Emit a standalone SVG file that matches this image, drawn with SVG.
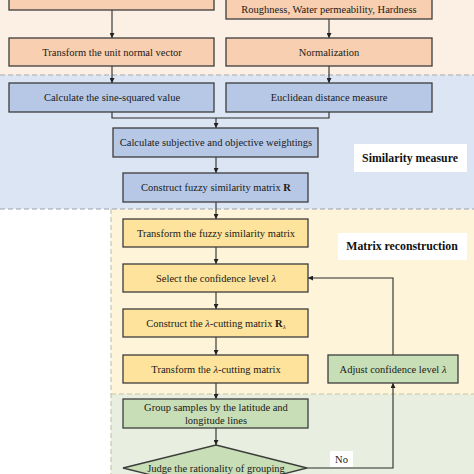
<svg xmlns="http://www.w3.org/2000/svg" width="474" height="474" viewBox="0 0 474 474">
<style>
.t{font-family:"Liberation Serif","Times New Roman",serif;font-size:10.5px;fill:#1a1a1a;text-anchor:middle}
.lb{font-family:"Liberation Serif","Times New Roman",serif;font-size:11.8px;font-weight:bold;fill:#111;text-anchor:middle}
.bx{stroke:#3c3c3c;stroke-width:1.3}
.o{fill:#f8cfb0}.b{fill:#b6c8e6}.y{fill:#fde39c}.g{fill:#c8deb6}
.c{fill:none;stroke:#2a2a2a;stroke-width:1.1}
</style>
<defs>
<marker id="ah" viewBox="0 0 6 6" refX="6" refY="3" markerWidth="5" markerHeight="5" orient="auto" markerUnits="userSpaceOnUse"><path d="M0,0L6,3L0,6z" fill="#222"/></marker>
</defs>
<rect width="474" height="474" fill="#fff"/>
<g id="regions">
<rect x="0" y="0" width="474" height="75" fill="#fcefe3"/>
<rect x="0" y="75" width="474" height="134" fill="#dce5f3"/>
<rect x="111" y="209" width="363" height="185" fill="#fdf4da"/>
<rect x="111" y="394" width="363" height="80" fill="#e8efe0"/>
<line x1="0" y1="75" x2="474" y2="75" stroke="#a8a8b0" stroke-width="1.2" stroke-dasharray="5,3"/>
<line x1="0" y1="209" x2="474" y2="209" stroke="#9aa2b0" stroke-width="1.2" stroke-dasharray="5,3"/>
<line x1="111" y1="394" x2="474" y2="394" stroke="#c9c39a" stroke-width="1.2" stroke-dasharray="5,3"/>
<line x1="111" y1="209" x2="111" y2="474" stroke="#c8c4a8" stroke-width="1.2" stroke-dasharray="5,3"/>
</g>
<g id="label-similarity">
<rect x="354" y="144" width="113" height="28" fill="#fff"/>
<text class="lb" x="410" y="162">Similarity measure</text>
</g>
<g id="label-matrix">
<rect x="338" y="233" width="129" height="27" fill="#fff"/>
<text class="lb" x="402" y="250">Matrix reconstruction</text>
</g>
<g id="connectors">
<line class="c" x1="112" y1="10" x2="112" y2="38" marker-end="url(#ah)"/>
<line class="c" x1="329" y1="19" x2="329" y2="38" marker-end="url(#ah)"/>
<line class="c" x1="112" y1="66" x2="112" y2="83" marker-end="url(#ah)"/>
<line class="c" x1="329" y1="66" x2="329" y2="83" marker-end="url(#ah)"/>
<polyline class="c" points="112,112 112,118 329,118 329,112"/>
<line class="c" x1="216" y1="118" x2="216" y2="128" marker-end="url(#ah)"/>
<line class="c" x1="216" y1="157" x2="216" y2="173" marker-end="url(#ah)"/>
<line class="c" x1="216" y1="202" x2="216" y2="219" marker-end="url(#ah)"/>
<line class="c" x1="216" y1="247" x2="216" y2="264" marker-end="url(#ah)"/>
<line class="c" x1="216" y1="292" x2="216" y2="309" marker-end="url(#ah)"/>
<line class="c" x1="216" y1="337" x2="216" y2="355" marker-end="url(#ah)"/>
<line class="c" x1="216" y1="383" x2="216" y2="399" marker-end="url(#ah)"/>
<line class="c" x1="216" y1="428" x2="216" y2="445" marker-end="url(#ah)"/>
<polyline class="c" points="307,468 393,468 393,383" marker-end="url(#ah)"/>
<polyline class="c" points="393,355 393,278 308,278" marker-end="url(#ah)"/>
</g>
<g id="label-no">
<rect x="330" y="451" width="23" height="16" fill="#fff"/>
<text class="t" x="341.5" y="463">No</text>
</g>
<g id="n-top-left"><rect class="bx o" x="9" y="-20" width="205" height="30"/></g>
<g id="n-top-right"><rect class="bx o" x="226" y="-20" width="206" height="39"/>
<text class="t" x="329" y="13">Roughness, Water permeability, Hardness</text></g>
<g id="n-unit"><rect class="bx o" x="9" y="38" width="205" height="28"/>
<text class="t" x="112" y="56">Transform the unit normal vector</text></g>
<g id="n-norm"><rect class="bx o" x="226" y="38" width="206" height="28"/>
<text class="t" x="329" y="56">Normalization</text></g>
<g id="n-sine"><rect class="bx b" x="9" y="83" width="205" height="29"/>
<text class="t" x="112" y="101">Calculate the sine-squared value</text></g>
<g id="n-eucl"><rect class="bx b" x="226" y="83" width="206" height="29"/>
<text class="t" x="329" y="101">Euclidean distance measure</text></g>
<g id="n-weight"><rect class="bx b" x="113" y="128" width="205" height="29"/>
<text class="t" x="216" y="146">Calculate subjective and objective weightings</text></g>
<g id="n-fuzzy"><rect class="bx b" x="123" y="173" width="185" height="29"/>
<text class="t" x="216" y="191">Construct fuzzy similarity matrix <tspan font-weight="bold">R</tspan></text></g>
<g id="n-tfuzzy"><rect class="bx y" x="123" y="219" width="185" height="28"/>
<text class="t" x="216" y="237">Transform the fuzzy similarity matrix</text></g>
<g id="n-select"><rect class="bx y" x="123" y="264" width="185" height="28"/>
<text class="t" x="216" y="282">Select the confidence level <tspan font-style="italic">λ</tspan></text></g>
<g id="n-cut"><rect class="bx y" x="123" y="309" width="185" height="28"/>
<text class="t" x="216" y="327">Construct the <tspan font-style="italic">λ</tspan>-cutting matrix <tspan font-weight="bold">R</tspan><tspan font-size="7" dy="2" font-style="italic">λ</tspan></text></g>
<g id="n-tcut"><rect class="bx y" x="123" y="355" width="185" height="28"/>
<text class="t" x="216" y="373">Transform the <tspan font-style="italic">λ</tspan>-cutting matrix</text></g>
<g id="n-adjust"><rect class="bx g" x="328" y="355" width="130" height="28"/>
<text class="t" x="393" y="373">Adjust confidence level <tspan font-style="italic">λ</tspan></text></g>
<g id="n-group"><rect class="bx g" x="123" y="399" width="185" height="29"/>
<text class="t" x="216" y="411">Group samples by the latitude and</text>
<text class="t" x="216" y="424">longitude lines</text></g>
<g id="n-judge"><polygon class="bx g" points="216,445 307,468 216,491 123,468"/>
<text class="t" x="216" y="472">Judge the rationality of grouping</text></g>
</svg>
